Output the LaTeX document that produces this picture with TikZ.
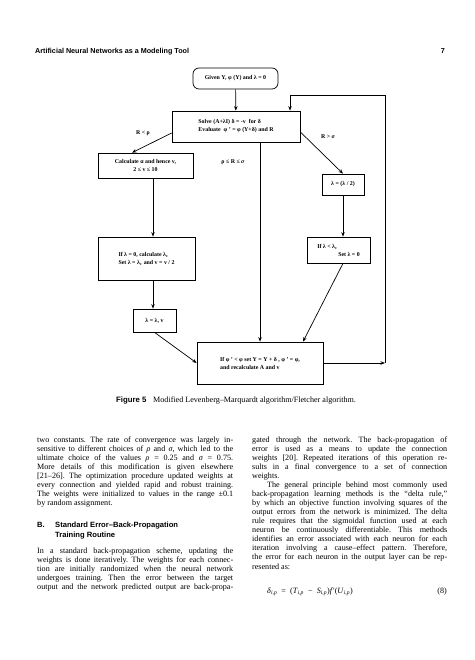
\documentclass[tikz,border=0pt]{standalone}
\usepackage{fontspec}
\setmainfont{Liberation Serif}
\setsansfont{Liberation Sans}
\usetikzlibrary{arrows.meta}
\tikzset{
  box/.style={draw, line width=0.7pt, inner sep=0pt, align=left,
    font=\fontsize{5.9}{8}\selectfont\bfseries},
  cond/.style={inner sep=0pt, font=\fontsize{5.9}{8}\selectfont\bfseries},
  link/.style={draw=black, line width=0.7pt, -{Stealth[length=4.5pt,width=3.5pt]}},
  bodyline/.style={anchor=base west, inner sep=0pt, font=\fontsize{8.1}{9}\selectfont\frenchspacing},
  headline/.style={anchor=base west, inner sep=0pt, font=\fontsize{7.6}{9}\selectfont\sffamily\bfseries}
}
\newcommand{\lamc}{λ\textsubscript{c}}
\newcommand{\ip}{\textsubscript{\textit{i,p}}}

\begin{document}
\begin{tikzpicture}[x=1pt,y=-1pt]

\useasboundingbox (0,0) rectangle (474,660);

% running head
\node[headline,font=\fontsize{7.2}{9}\selectfont\sffamily\bfseries] (head) at (35,54) {Artificial Neural Networks as a Modeling Tool};
\node[headline,anchor=base east,font=\fontsize{7.2}{9}\selectfont\sffamily\bfseries] (page) at (445,54) {7};

% flowchart
\node[box,rounded corners=6pt,minimum width=85pt,minimum height=21pt] (given) at (235.5,78.5) {Given Y, φ (Y) and λ = 0};
\node[box,minimum width=128pt,minimum height=31pt] (solve) at (236,126.5) {Solve (A+λI) δ = -v\ \ for δ\\Evaluate\ \ φ ' = φ (Y+δ) and R};
\node[box,align=center,minimum width=95pt,minimum height=25pt] (calc) at (145.5,165.5) {Calculate α and hence v,\\2 ≤ v ≤ 10};
\node[box,minimum width=97pt,minimum height=43pt] (setlc) at (146.5,258.5) {If λ = 0, calculate \lamc\\Set λ = \lamc\ and v = v / 2};
\node[box,minimum width=43pt,minimum height=23pt] (lamv) at (154.5,320.5) {λ = λ, v};
\node[box,minimum width=42pt,minimum height=21pt] (half) at (343,184.5) {λ = (λ / 2)};
\node[box,minimum width=63pt,minimum height=26pt] (ifless) at (338.5,250) {If λ < \lamc\\\hspace*{21pt}Set λ = 0};
\node[box,minimum width=126pt,minimum height=42pt] (final) at (260,363) {If φ ' < φ set Y = Y + δ , φ ' = φ,\\and recalculate A and v};

\node[cond] (lowR) at (143,133) {R < ρ};
\node[cond] (midR) at (233,162) {ρ ≤ R ≤ \textit{σ}};
\node[cond] (highR) at (328,137) {R > \textit{σ}};

\coordinate (loopR) at (385,363);
\coordinate (loopT) at (290,95);

\path[link] (given) -- (solve);
\path[link] ([yshift=-6.5pt]solve.west) -- ([xshift=-13.5pt]calc.north);
\path[link] (solve.south -| final.north) -- (final.north);
\path[link] ([yshift=-5.5pt]solve.east) -- (half.north);
\path[link] (half) -- (half |- ifless.north);
\path[link] (ifless.south -| half) -- ([xshift=43pt]final.north);
\path[link] ([xshift=7.5pt]calc.south) -- ([xshift=6.5pt]setlc.north);
\path[link] ([xshift=6.5pt]setlc.south) -- ([xshift=-1.5pt]lamv.north);
\path[link] (lamv.south) -- (final.west);
\path[link] (final) -- (loopR);
\path[link] (loopR) |- (loopT) -- (loopT |- solve.north);

% caption
\node[headline,font=\fontsize{7.8}{9}\selectfont\sffamily\bfseries] (figno) at (116,402) {Figure 5};
\node[bodyline] (figcap) at (153,402) {Modified Levenberg–Marquardt algorithm/Fletcher algorithm.};

% left column
\foreach \txt [count=\i from 0] in {
  {two constants. The rate of convergence was largely in-},
  {sensitive to different choices of \textit{ρ} and \textit{σ}, which led to the},
  {ultimate choice of the values \textit{ρ} = 0.25 and \textit{σ} = 0.75.},
  {More details of this modification is given elsewhere},
  {[21–26]. The optimization procedure updated weights at},
  {every connection and yielded rapid and robust training.},
  {The weights were initialized to values in the range ±0.1}} {
  \node[bodyline] (lefta-\i) at (37,442+9.07*\i) {\makebox[196pt][s]{\txt}};
}
\node[bodyline] (lefta-7) at (37,505.5) {by random assignment.};

\node[headline] (secno) at (37,527) {B.};
\node[headline] (sect) at (55,527) {Standard Error–Back-Propagation};
\node[headline] (sectb) at (55,537) {Training Routine};

\foreach \txt [count=\i from 0] in {
  {In a standard back-propagation scheme, updating the},
  {weights is done iteratively. The weights for each connec-},
  {tion are initially randomized when the neural network},
  {undergoes training. Then the error between the target},
  {output and the network predicted output are back-propa-}} {
  \node[bodyline] (leftb-\i) at (37,553+9.07*\i) {\makebox[196pt][s]{\txt}};
}

% right column
\foreach \txt [count=\i from 0] in {
  {gated through the network. The back-propagation of},
  {error is used as a means to update the connection},
  {weights [20]. Repeated iterations of this operation re-},
  {sults in a final convergence to a set of connection}} {
  \node[bodyline] (righta-\i) at (252,442+9.07*\i) {\makebox[195pt][s]{\txt}};
}
\node[bodyline] (righta-4) at (252,478.3) {weights.};
\node[bodyline] (rightb-0) at (267,487.4) {\makebox[180pt][s]{The general principle behind most commonly used}};
\foreach \txt [count=\i from 1] in {
  {back-propagation learning methods is the “delta rule,”},
  {by which an objective function involving squares of the},
  {output errors from the network is minimized. The delta},
  {rule requires that the sigmoidal function used at each},
  {neuron be continuously differentiable. This methods},
  {identifies an error associated with each neuron for each},
  {iteration involving a cause–effect pattern. Therefore,},
  {the error for each neuron in the output layer can be rep-}} {
  \node[bodyline] (rightb-\i) at (252,487.4+9.07*\i) {\makebox[195pt][s]{\txt}};
}
\node[bodyline] (rightb-9) at (252,569) {resented as:};

\node[bodyline] (eq) at (267,593) {\textit{δ}\ip\ \ =\ \ (\textit{T}\ip\ \ −\ \ \textit{S}\ip)\textit{f}′(\textit{U}\ip)};
\node[bodyline,anchor=base east] (eqno) at (447,593) {(8)};
\end{tikzpicture}
\end{document}
